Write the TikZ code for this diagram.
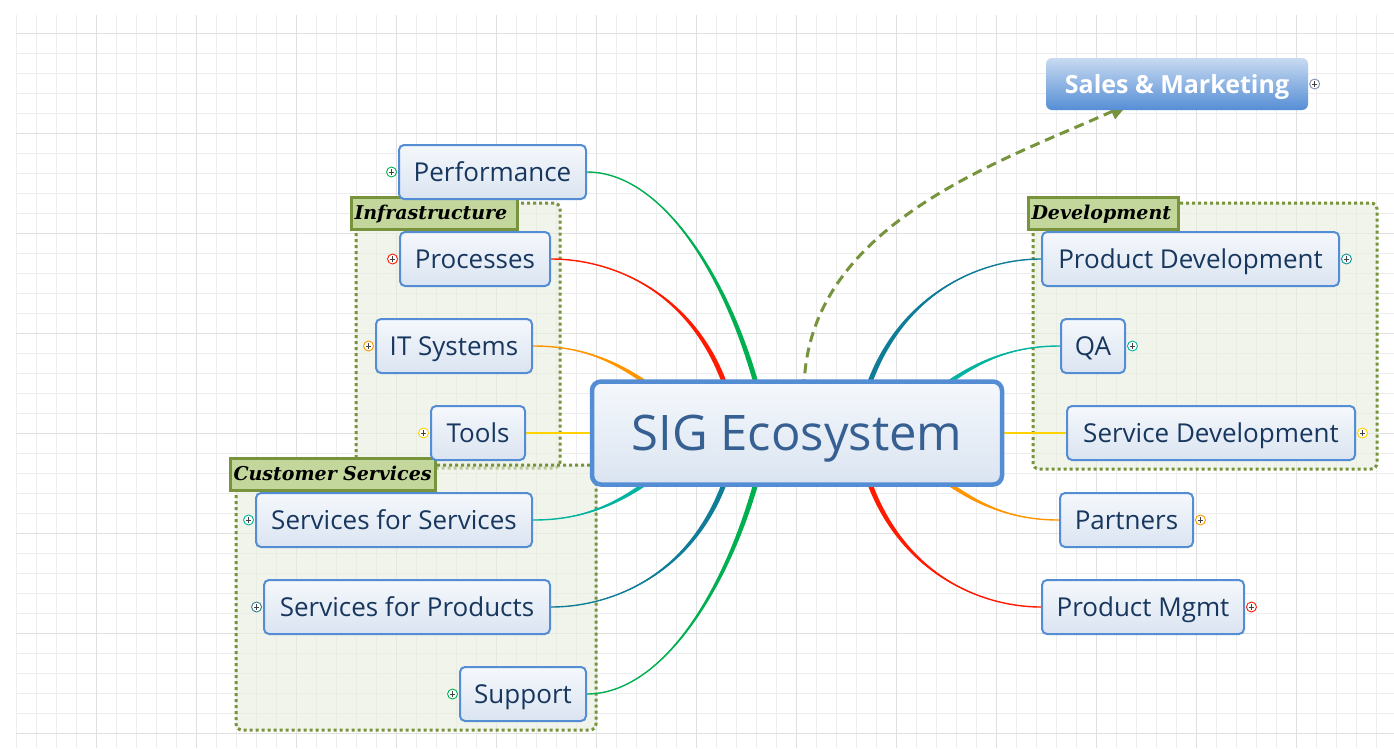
\documentclass[tikz,border=0pt]{standalone}
\usepackage{fontspec}
\setmainfont{Open Sans}
\newfontfamily\labelfont{DejaVu Serif}
\usetikzlibrary{arrows.meta, positioning, calc}

\pgfdeclarelayer{background}
\pgfdeclarelayer{links}
\pgfsetlayers{background,links,main}

\definecolor{topicline}{HTML}{548DD4}
\definecolor{topictop}{HTML}{F5F8FC}
\definecolor{topicbot}{HTML}{DAE4F1}
\definecolor{topictext}{HTML}{17375E}
\definecolor{hubtext}{HTML}{366092}
\definecolor{salestop}{HTML}{C8DAF1}
\definecolor{salesbot}{HTML}{558ED5}
\definecolor{olive}{HTML}{77933C}
\definecolor{labelfill}{HTML}{C3D69B}
\definecolor{groupfill}{HTML}{E9EEDD}
\definecolor{brgreen}{HTML}{00B050}
\definecolor{brred}{HTML}{FF1A00}
\definecolor{brorange}{HTML}{FF9600}
\definecolor{bryellow}{HTML}{FFD200}
\definecolor{brteal}{HTML}{00B4A0}
\definecolor{brblue}{HTML}{0F7D98}
\definecolor{brgray}{HTML}{7F8FA9}

% tapered branch: colour, half width at the hub, start, two controls, end
\newcommand{\branch}[6]{%
  \path (#3) coordinate (bs) (#4) coordinate (bc1) (#5) coordinate (bc2) (#6) coordinate (be);
  \path ($(be)!#2!90:(bc2)$) coordinate (bp) ($(be)!#2!-90:(bc2)$) coordinate (bm);
  \fill[#1] (bs) .. controls (bc1) and ($(bc2)+(bp)-(be)$) .. (bp) -- (bm)
    .. controls ($(bc2)+(bm)-(be)$) and (bc1) .. (bs);
  \draw[#1, line width=1.4] (bs) .. controls (bc1) and (bc2) .. (be);
}

\begin{document}
\begin{tikzpicture}[x=1pt, y=-1pt,
  minorgrid/.style={draw=black!7, line width=1},
  majorgrid/.style={draw=black!12, line width=1},
  groupbox/.style={draw=olive, line width=3, dash pattern=on 3pt off 3pt, rounded corners=6, fill=groupfill, fill opacity=0.6},
  grouplabel/.style={draw=olive, line width=3, fill=labelfill, minimum height=32, inner xsep=3, inner ysep=0, align=left, text height=13.5, text depth=0, font=\labelfont\bfseries\itshape\fontsize{19}{22}\selectfont},
  topic/.style={rectangle, rounded corners=5, draw=topicline, line width=2, top color=topictop, bottom color=topicbot, text=topictext, minimum height=54, inner xsep=0, text height=19, text depth=0, font=\fontsize{26}{30}\selectfont},
  plusmark/.style={circle, draw=#1, fill=white, line width=0.9, minimum size=10, inner sep=0,
    path picture={\draw[black!75, line width=0.9]
      ([xshift=-2.6pt]path picture bounding box.center) -- ([xshift=2.6pt]path picture bounding box.center)
      ([yshift=-2.6pt]path picture bounding box.center) -- ([yshift=2.6pt]path picture bounding box.center);}}]

  \useasboundingbox (0,0) rectangle (1394,748);

  % central topic
  \node (hub) [rectangle, rounded corners=9, draw=topicline, line width=4.5, top color=topictop, bottom color=topicbot, text=hubtext, minimum width=410, minimum height=103, text height=35, text depth=0, font=\fontsize{49}{58}\selectfont] at (797,433) {SIG Ecosystem};

  % left side
  \node (perf) [topic, minimum width=187] at (492.5,172) {Performance};
  \node (proc) [topic, minimum width=150] at (475,259) {Processes};
  \node (itsys) [topic, minimum width=156] at (454,346) {IT Systems};
  \node (tools) [topic, minimum width=94] at (478,433) {Tools};
  \node (sfs) [topic, minimum width=276] at (394,520) {Services for Services};
  \node (sfp) [topic, minimum width=286] at (407,607) {Services for Products};
  \node (supp) [topic, minimum width=126] at (523,694) {Support};

  % right side
  \node (pdev) [topic, minimum width=297] at (1190.5,259) {Product Development};
  \node (qa) [topic, minimum width=64] at (1093,346) {QA};
  \node (sdev) [topic, minimum width=288] at (1211,433) {Service Development};
  \node (partn) [topic, minimum width=133] at (1126.5,520) {Partners};
  \node (pmgmt) [topic, minimum width=202] at (1143,607) {Product Mgmt};
  \node (sales) [rectangle, rounded corners=6, top color=salestop, bottom color=salesbot, text=white, minimum width=262, minimum height=52, text height=18, text depth=0, font=\bfseries\fontsize{25}{30}\selectfont] at (1177,84) {Sales \& Marketing};

  % collapsed markers
  \node (perfx) [plusmark=brgreen, left=1pt of perf] {};
  \node (procx) [plusmark=brred, left=1pt of proc] {};
  \node (itsysx) [plusmark=brorange, left=1pt of itsys] {};
  \node (toolsx) [plusmark=bryellow, left=1pt of tools] {};
  \node (sfsx) [plusmark=brteal, left=1pt of sfs] {};
  \node (sfpx) [plusmark=brblue!70!gray, left=1pt of sfp] {};
  \node (suppx) [plusmark=brgreen, left=1pt of supp] {};
  \node (pdevx) [plusmark=brblue!60!brteal, right=1pt of pdev] {};
  \node (qax) [plusmark=brteal, right=1pt of qa] {};
  \node (sdevx) [plusmark=bryellow, right=1pt of sdev] {};
  \node (partnx) [plusmark=brorange, right=1pt of partn] {};
  \node (pmgmtx) [plusmark=brred, right=1pt of pmgmt] {};
  \node (salesx) [plusmark=brgray, right=1pt of sales] {};

  \begin{pgfonlayer}{background}
    \fill[white] (0,0) rectangle (1394,748);
    \foreach \gx in {16,36,...,1394} \draw[minorgrid] (\gx,15) -- (\gx,748);
    \foreach \gy in {33,53,...,748} \draw[minorgrid] (16,\gy) -- (1394,\gy);
    \foreach \gx in {96,196,...,1296} \draw[majorgrid] (\gx,15) -- (\gx,748);
    \foreach \gy in {33,133,...,733} \draw[majorgrid] (16,\gy) -- (1394,\gy);

    % boundaries
    \draw[groupbox] (356,203) rectangle (560,468);
    \draw[groupbox] (236,465) rectangle (596,730);
    \draw[groupbox] (1033,203) rectangle (1377,469);
    \node (infra) [grouplabel, text width=160] at (434.5,213) {Infrastructure};
    \node (custs) [grouplabel, text width=199] at (333,474) {Customer Services};
    \node (devel) [grouplabel, text width=144] at (1103.5,213) {Development};
  \end{pgfonlayer}

  \begin{pgfonlayer}{links}
    \branch{brgreen}{2.6pt}{perf.east}{670,172}{740,300}{$(hub.center)+(-32,-13)$}
    \branch{brred}{2.6pt}{proc.east}{620,259}{710,300}{$(hub.center)+(-62,-13)$}
    \branch{brorange}{2.6pt}{itsys.east}{585,346}{630,362}{$(hub.center)+(-107,-13)$}
    \branch{bryellow}{1.6pt}{tools.east}{560,433}{600,433}{$(hub.center)+(-147,0)$}
    \branch{brteal}{2.6pt}{sfs.east}{585,520}{630,504}{$(hub.center)+(-107,13)$}
    \branch{brblue}{2.6pt}{sfp.east}{620,607}{710,566}{$(hub.center)+(-62,13)$}
    \branch{brgreen}{2.6pt}{supp.east}{670,694}{740,566}{$(hub.center)+(-32,13)$}
    \branch{brblue}{2.6pt}{pdev.west}{974,259}{884,300}{$(hub.center)+(62,-13)$}
    \branch{brteal}{2.6pt}{qa.west}{1009,346}{964,362}{$(hub.center)+(107,-13)$}
    \branch{bryellow}{1.6pt}{sdev.west}{1030,433}{990,433}{$(hub.center)+(147,0)$}
    \branch{brorange}{2.6pt}{partn.west}{1009,520}{964,504}{$(hub.center)+(107,13)$}
    \branch{brred}{2.6pt}{pmgmt.west}{974,607}{884,566}{$(hub.center)+(62,13)$}
    % relationship
    \draw[olive, line width=3, dash pattern=on 10pt off 6pt, -{Triangle[length=18pt, width=16pt]}]
      ($(hub.north)+(7,10)$) .. controls (806,225) and (1000,162) .. ($(sales.south)+(-49,-6)$);
  \end{pgfonlayer}
\end{tikzpicture}
\end{document}
